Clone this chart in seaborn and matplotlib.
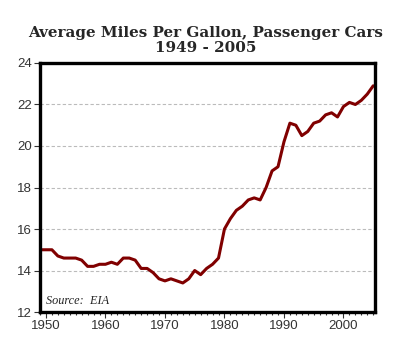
import matplotlib
matplotlib.use("Agg")
import matplotlib.pyplot as plt
import seaborn as sns
import pandas as pd
from matplotlib.ticker import MultipleLocator

years = list(range(1949, 2006))
mpg = [15.0, 15.0, 15.0, 14.7, 14.6, 14.6, 14.6, 14.5, 14.2, 14.2,
       14.3, 14.3, 14.4, 14.3, 14.6, 14.6, 14.5, 14.1, 14.1, 13.9,
       13.6, 13.5, 13.6, 13.5, 13.4, 13.6, 14.0, 13.8, 14.1, 14.3,
       14.6, 16.0, 16.5, 16.9, 17.1, 17.4, 17.5, 17.4, 18.0, 18.8,
       19.0, 20.2, 21.1, 21.0, 20.5, 20.7, 21.1, 21.2, 21.5, 21.6,
       21.4, 21.9, 22.1, 22.0, 22.2, 22.5, 22.9]
title = "Average Miles Per Gallon, Passenger Cars\n1949 - 2005"
source = "Source:  EIA"

df = pd.DataFrame({"year": years, "mpg": mpg})

sns.set_style("white")
plt.rcParams['font.family'] = ['Liberation Sans', 'DejaVu Sans']

fig = plt.figure(figsize=(4.0, 3.48), dpi=100)
ax = fig.add_axes([0.1, 0.1034, 0.8375, 0.7156])
sns.lineplot(data=df, x="year", y="mpg", ax=ax, color="#800000", linewidth=2.2)

ax.set_xlim(1949, 2005.3)
ax.set_ylim(12, 24)
ax.set_yticks([12, 14, 16, 18, 20, 22, 24])
ax.set_xticks([1950, 1960, 1970, 1980, 1990, 2000])
ax.xaxis.set_minor_locator(MultipleLocator(1))
ax.set_xlabel("")
ax.set_ylabel("")
for yv in [14, 16, 18, 20, 22]:
    ax.axhline(yv, color="#bbbbbb", linestyle=(0, (3, 2)), linewidth=0.8, zorder=0)
for s in ax.spines.values():
    s.set_visible(True)
    s.set_linewidth(2.4)
    s.set_color("black")
ax.tick_params(axis="both", which="major", direction="out", length=4, width=0.8,
               labelsize=9.5, colors="#333333", left=True, bottom=True)
ax.tick_params(axis="x", which="minor", direction="out", length=2.5, width=0.8,
               colors="#333333", bottom=True)
ax.tick_params(axis="y", pad=2)
ax.tick_params(axis="x", pad=2)

fig.text(0.515, 0.883, title, ha="center", va="center", fontsize=10.9,
         fontweight="bold", family="DejaVu Serif", linespacing=1.1)
ax.text(1950.0, 12.4, source, fontsize=8.8, style="italic", family="Liberation Serif",
        color="#222222")

fig.savefig("out.png", dpi=100, facecolor="white")
